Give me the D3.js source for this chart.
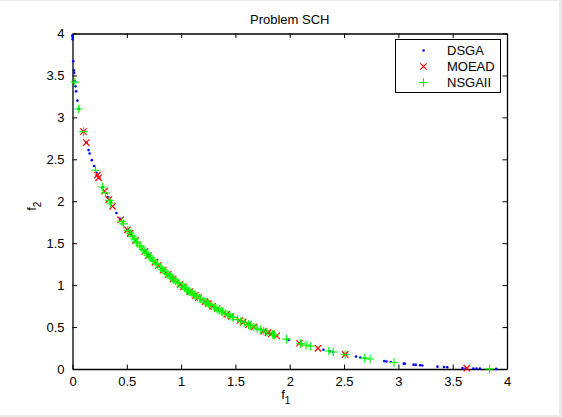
<!DOCTYPE html>
<html>
<head>
<meta charset="utf-8">
<script src="https://d3js.org/d3.v7.min.js"></script>
<style>
  body { margin: 0; background: #ebebeb; }
  #chart { display: block; margin-top: 1px; }
  text { font-family: "Liberation Sans", Arial, sans-serif; }
</style>
</head>
<body>
<div id="chart"></div>
<script>
// Pareto fronts, [f1, f2]
var dsga = [
  [0, 3.98], [0, 3.96], [0.001, 3.93], [0.007, 3.67], [0.013, 3.56], [0.015, 3.53],
  [0.022, 3.43], [0.027, 3.37], [0.033, 3.31], [0.045, 3.20], [0.057, 3.10],
  [0.101, 2.83], [0.127, 2.70], [0.148, 2.61], [0.158, 2.57], [0.178, 2.49],
  [0.198, 2.42], [0.221, 2.34], [0.278, 2.17], [0.323, 2.05], [0.405, 1.86],
  [0.438, 1.79], [0.506, 1.66], [0.54, 1.60],
  [1.557, 0.566], [1.757, 0.454], [1.82, 0.424], [1.85, 0.409], [1.99, 0.347],
  [2.095, 0.305], [2.31, 0.230], [2.37, 0.212], [2.40, 0.203], [2.51, 0.173],
  [2.61, 0.148], [2.65, 0.138], [2.69, 0.130], [2.87, 0.094], [2.89, 0.090],
  [2.93, 0.083], [3.05, 0.064], [3.06, 0.063], [3.14, 0.052], [3.16, 0.049],
  [3.20, 0.044], [3.22, 0.042], [3.36, 0.028], [3.42, 0.023], [3.45, 0.020],
  [3.59, 0.011], [3.62, 0.009], [3.69, 0.006], [3.72, 0.005], [3.75, 0.004],
  [3.90, 0.001]
];

var moead = [
  [0.101, 2.83], [0.127, 2.70], [0.230, 2.31], [0.240, 2.28], [0.296, 2.12],
  [0.335, 2.02], [0.369, 1.94], [0.443, 1.78], [0.506, 1.66], [0.53, 1.618],
  [0.58, 1.534], [0.666, 1.402], [0.70, 1.353], [0.76, 1.273], [0.79, 1.235],
  [0.835, 1.180], [0.881, 1.127], [0.927, 1.075], [0.99, 1.010], [1.02, 0.980],
  [1.08, 0.923], [1.13, 0.878], [1.16, 0.852], [1.22, 0.802], [1.25, 0.778],
  [1.29, 0.747], [1.33, 0.717], [1.42, 0.653], [1.46, 0.627], [1.54, 0.576],
  [1.57, 0.558], [1.62, 0.529], [1.67, 0.501], [1.76, 0.453], [1.80, 0.433],
  [1.83, 0.419], [1.88, 0.395], [2.09, 0.307], [2.26, 0.247], [2.51, 0.173],
  [3.63, 0.009]
];

var nsgaii = [
  [0.022, 3.42], [0.057, 3.10], [0.101, 2.83], [0.212, 2.37], [0.276, 2.17],
  [0.304, 2.10], [0.339, 2.01], [0.351, 1.98], [0.455, 1.76], [0.469, 1.73],
  [0.51, 1.653], [0.53, 1.618], [0.55, 1.584], [0.57, 1.550], [0.59, 1.517],
  [0.60, 1.502], [0.62, 1.470], [0.63, 1.455], [0.65, 1.425], [0.66, 1.410],
  [0.68, 1.382], [0.70, 1.353], [0.72, 1.326], [0.74, 1.299], [0.75, 1.286],
  [0.77, 1.260], [0.78, 1.247], [0.81, 1.210], [0.83, 1.186], [0.85, 1.162],
  [0.87, 1.139], [0.88, 1.128], [0.90, 1.105], [0.92, 1.083], [0.93, 1.072],
  [0.95, 1.051], [0.97, 1.030], [0.98, 1.020], [1.01, 0.990], [1.03, 0.970],
  [1.05, 0.951], [1.07, 0.932], [1.08, 0.923], [1.10, 0.905], [1.12, 0.887],
  [1.13, 0.878], [1.15, 0.860], [1.17, 0.843], [1.18, 0.835], [1.21, 0.810],
  [1.23, 0.794], [1.25, 0.778], [1.26, 0.770], [1.28, 0.755], [1.31, 0.732],
  [1.33, 0.717], [1.35, 0.702], [1.37, 0.688], [1.38, 0.681], [1.41, 0.660],
  [1.43, 0.647], [1.45, 0.633], [1.47, 0.620], [1.48, 0.614], [1.52, 0.589],
  [1.55, 0.570], [1.58, 0.552], [1.62, 0.529], [1.64, 0.518], [1.67, 0.501],
  [1.70, 0.485], [1.73, 0.469], [1.76, 0.453], [1.79, 0.438], [1.84, 0.414],
  [1.86, 0.405], [1.97, 0.356], [2.10, 0.303], [2.15, 0.285], [2.19, 0.271],
  [2.36, 0.215], [2.40, 0.203], [2.51, 0.173], [2.69, 0.130], [2.74, 0.119],
  [2.96, 0.078], [3.84, 0.002]
];

var xTicks = [0, 0.5, 1, 1.5, 2, 2.5, 3, 3.5, 4];
var yTicks = [0, 0.5, 1, 1.5, 2, 2.5, 3, 3.5, 4];
var seriesNames = ["DSGA", "MOEAD", "NSGAII"];

var W = 559, H = 414;
var margin = {top: 32.5, right: 52, bottom: 46, left: 72.5},
    width = W - margin.left - margin.right,
    height = H - margin.top - margin.bottom;

var svgRoot = d3.select("#chart").append("svg")
    .attr("width", W).attr("height", H)
    .style("background", "#fff");

var svg = svgRoot.append("g")
    .attr("transform", "translate(" + margin.left + "," + margin.top + ")");

var x = d3.scaleLinear().domain([0, 4]).range([0, width]);
var y = d3.scaleLinear().domain([0, 4]).range([height, 0]);

// axes, matlab style: inward ticks on all four sides
var tl = 4.5;
svg.append("g").attr("class", "axis")
  .attr("transform", "translate(0," + height + ")")
  .call(d3.axisBottom(x).tickValues(xTicks).tickSizeInner(-tl).tickSizeOuter(0).tickPadding(8)
        .tickFormat(d3.format("")));
svg.append("g").attr("class", "axis")
  .call(d3.axisTop(x).tickValues(xTicks).tickSizeInner(-tl).tickSizeOuter(0).tickFormat(""));
svg.append("g").attr("class", "axis")
  .call(d3.axisLeft(y).tickValues(yTicks).tickSizeInner(-tl).tickSizeOuter(0).tickPadding(8)
        .tickFormat(d3.format("")));
svg.append("g").attr("class", "axis")
  .attr("transform", "translate(" + width + ",0)")
  .call(d3.axisRight(y).tickValues(yTicks).tickSizeInner(-tl).tickSizeOuter(0).tickFormat(""));

svg.selectAll(".axis text").style("font-size", "13px").attr("fill", "#000");
svg.selectAll(".axis .tick line").attr("stroke", "#000").attr("stroke-width", 1);
svg.selectAll(".axis .domain").attr("stroke", "#000").attr("stroke-width", 1.3);

// markers
function plus(g, s) {
  g.append("path").attr("d", "M" + (-s) + ",0H" + s + "M0," + (-s) + "V" + s)
    .style("stroke", "rgb(0,255,0)").style("stroke-width", "1.1px").style("fill", "none");
}
function cross(g, s) {
  g.append("path").attr("d", "M" + (-s) + "," + (-s) + "L" + s + "," + s + "M" + (-s) + "," + s + "L" + s + "," + (-s))
    .style("stroke", "rgb(255,0,0)").style("stroke-width", "1.2px").style("fill", "none");
}

// plotted in legend order: DSGA, MOEAD, NSGAII
svg.append("g").selectAll("circle").data(dsga).enter().append("circle")
  .attr("cx", function(d) { return x(d[0]); })
  .attr("cy", function(d) { return y(d[1]); })
  .attr("r", 1.3)
  .attr("fill", "#0000ff");

svg.append("g").selectAll("g").data(moead).enter().append("g")
  .attr("transform", function(d) { return "translate(" + x(d[0]) + "," + y(d[1]) + ")"; })
  .each(function() { cross(d3.select(this), 3.2); });

svg.append("g").selectAll("g").data(nsgaii).enter().append("g")
  .attr("transform", function(d) { return "translate(" + x(d[0]) + "," + y(d[1]) + ")"; })
  .each(function() { plus(d3.select(this), 4.3); });

// title and labels
svgRoot.append("text").attr("x", margin.left + width / 2).attr("y", 23)
  .attr("text-anchor", "middle").style("font-size", "13px").text("Problem SCH");

var xl = svgRoot.append("text").attr("x", margin.left + width / 2 - 4).attr("y", 398)
  .attr("text-anchor", "middle").style("font-size", "13px");
xl.append("tspan").text("f");
xl.append("tspan").attr("dy", 5).style("font-size", "10px").text("1");

var yl = svgRoot.append("text")
  .attr("transform", "translate(36," + (margin.top + height / 2 + 5) + ") rotate(-90)")
  .attr("text-anchor", "middle").style("font-size", "13px");
yl.append("tspan").text("f");
yl.append("tspan").attr("dy", 5).style("font-size", "10px").text("2");

// legend
var lg = svgRoot.append("g").attr("transform", "translate(395.5,38.5)");
lg.append("rect").attr("width", 105).attr("height", 53)
  .attr("fill", "#fff").attr("stroke", "#000").attr("stroke-width", 1);
seriesNames.forEach(function(name, i) {
  var row = lg.append("g").attr("transform", "translate(28," + (11 + i * 16) + ")");
  if (i === 0) row.append("circle").attr("r", 1.3).attr("fill", "#0000ff");
  if (i === 1) cross(row, 3.2);
  if (i === 2) plus(row, 4.3);
  lg.append("text").attr("x", 51.5).attr("y", 11 + i * 16 + 4.5)
    .style("font-size", "13px").text(name);
});
</script>
</body>
</html>
